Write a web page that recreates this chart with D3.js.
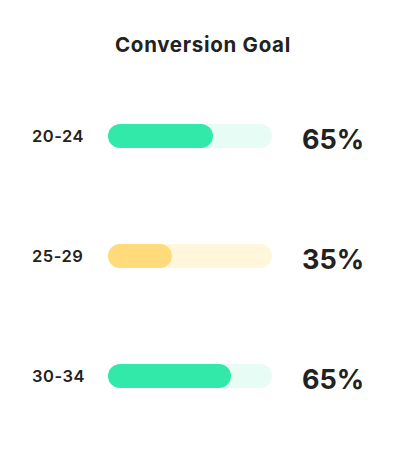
<!DOCTYPE html>
<html>
<head>
<meta charset="utf-8">
<script src="https://cdn.jsdelivr.net/npm/d3@7"></script>
<style>
  html, body { margin: 0; padding: 0; background: #fff; }
  svg { display: block; }
  text { font-family: Inter, "Open Sans", sans-serif; fill: #222; }
</style>
</head>
<body>
<svg id="canvas"></svg>
<script>
const width = 408;
const height = 469;

/* Data */
const ageGroups = ["20-24", "25-29", "30-34"];
const fillValues = [64, 39, 75];          // bar fill, percent of track
const goalLabels = ["65%", "35%", "65%"]; // printed labels
const fillColors = ["#33e9aa", "#ffdb7c", "#33e9aa"];
const trackColors = ["#e6fcf4", "#fff6dc", "#e6fcf4"];

const rows = ageGroups.map((g, i) => ({
    group: g,
    value: fillValues[i],
    label: goalLabels[i],
    fill: fillColors[i],
    track: trackColors[i]
}));

/* Sets up svg */
const svg = d3.select("#canvas")
    .attr("width", width)
    .attr("height", height);

/* Scales */
const x = d3.scaleLinear()
    .domain([0, 100])
    .range([108, 272]);

const y = d3.scalePoint()
    .domain(ageGroups)
    .range([136, 376]);

const barH = 24;

svg.append("text")
    .attr("x", 203)
    .attr("y", 52)
    .attr("text-anchor", "middle")
    .style("font-size", "20.5px")
    .style("font-weight", 700)
    .style("letter-spacing", "0.7px")
    .text("Conversion Goal");

const row = svg.append("g")
    .selectAll("g")
    .data(rows)
    .enter()
    .append("g");

/* Tracks */
row.append("rect")
    .attr("x", x(0))
    .attr("y", d => y(d.group) - barH / 2)
    .attr("width", x(100) - x(0))
    .attr("height", barH)
    .attr("rx", barH / 2)
    .attr("fill", d => d.track);

/* Fills */
row.append("rect")
    .attr("x", x(0))
    .attr("y", d => y(d.group) - barH / 2)
    .attr("width", d => x(d.value) - x(0))
    .attr("height", barH)
    .attr("rx", barH / 2)
    .attr("fill", d => d.fill);

/* Age labels */
row.append("text")
    .attr("x", 32)
    .attr("y", d => y(d.group) + 6)
    .style("font-size", "16.5px")
    .style("font-weight", 600)
    .style("letter-spacing", "0.5px")
    .text(d => d.group);

/* Percent labels */
row.append("text")
    .attr("x", 302)
    .attr("y", d => y(d.group) + 13)
    .style("font-size", "27px")
    .style("font-weight", 700)
    .text(d => d.label);
</script>
</body>
</html>
